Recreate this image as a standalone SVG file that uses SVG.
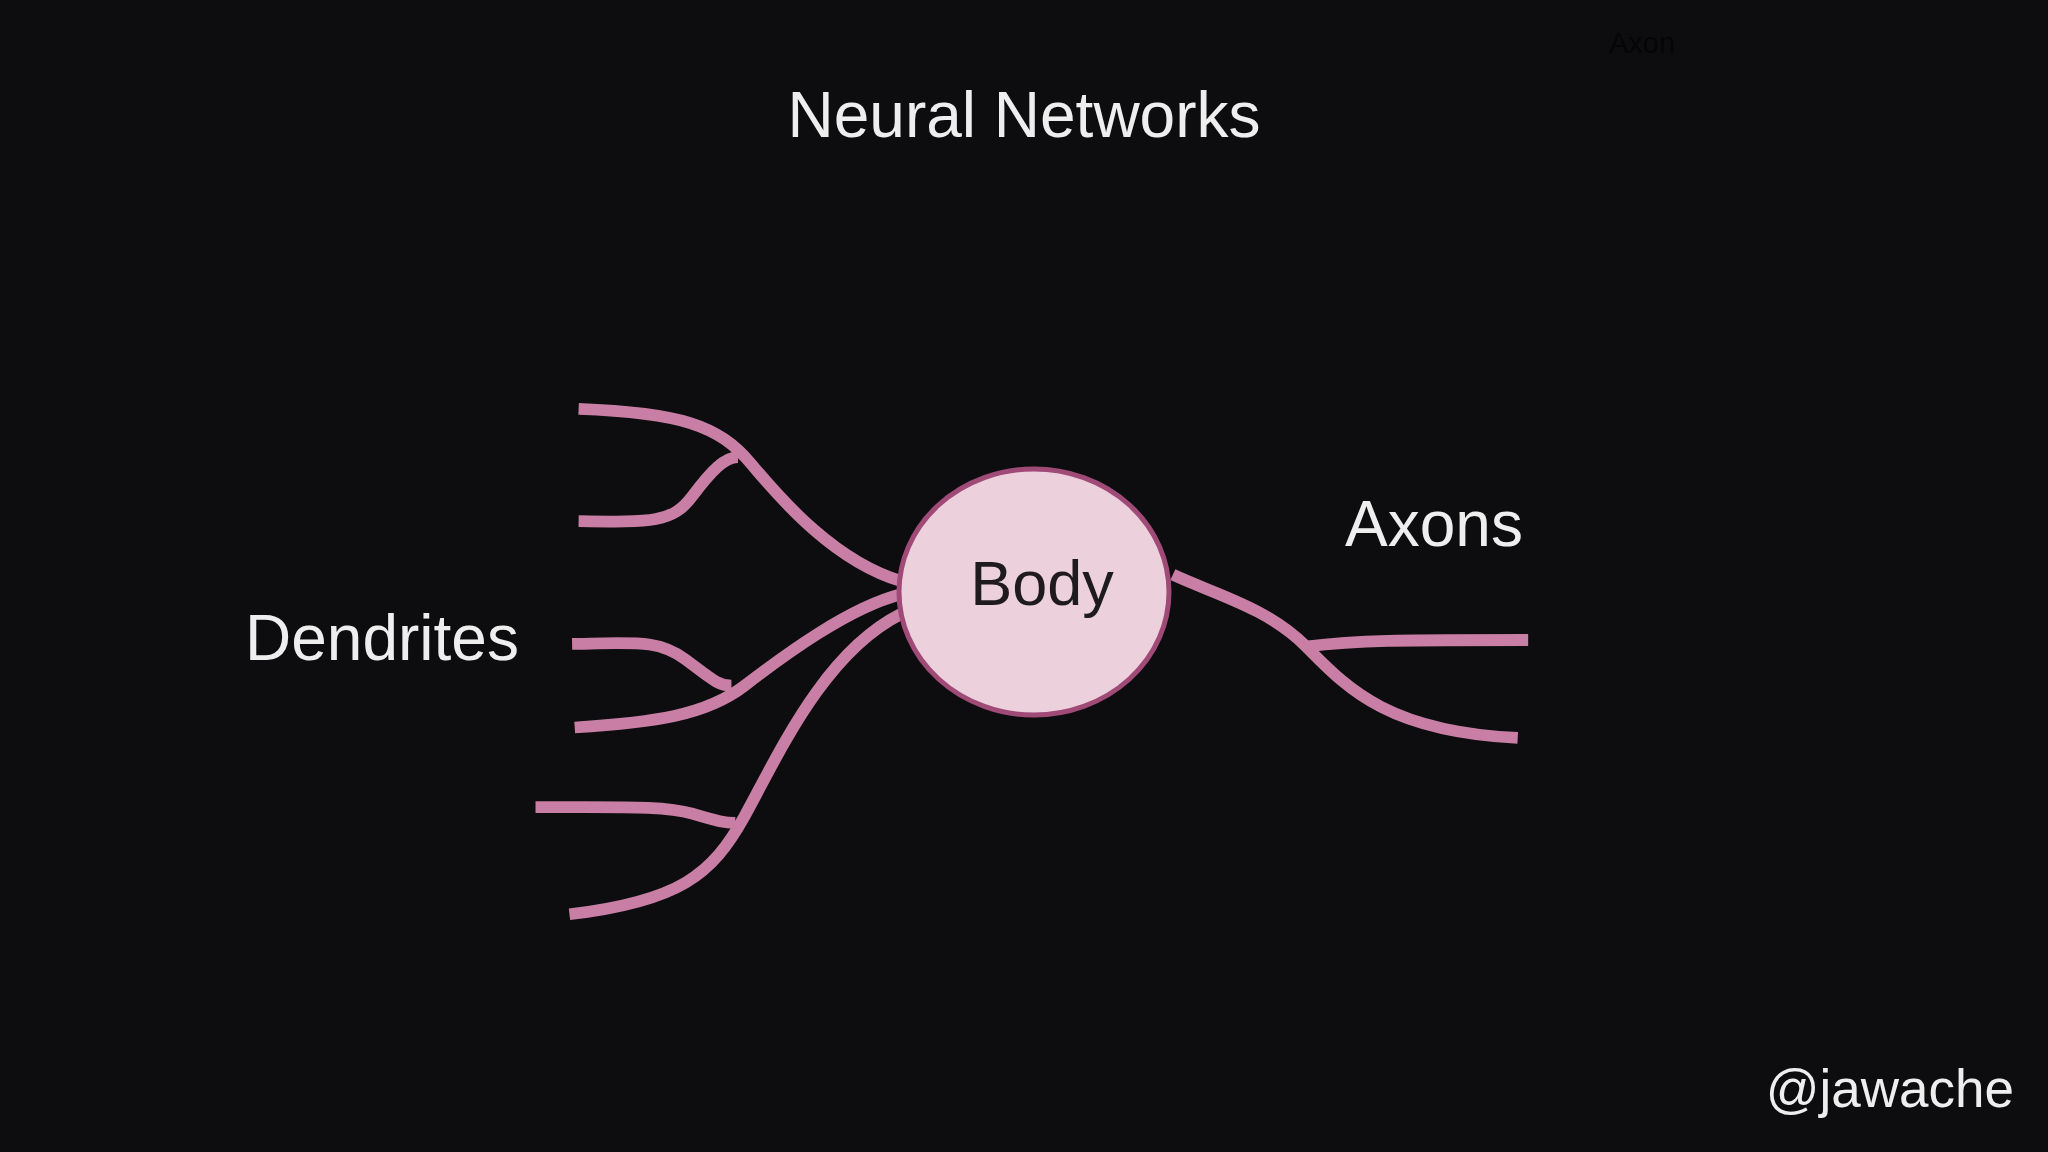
<svg xmlns="http://www.w3.org/2000/svg" width="2048" height="1152" viewBox="0 0 2048 1152">
<style>
.t{font-family:"Liberation Sans",Arial,sans-serif;fill:#eeeeee}
.c{fill:none;stroke:#c97fa5;stroke-width:9;stroke-linecap:butt}
</style>
<rect width="2048" height="1152" fill="#0d0d0f"/>
<text class="t" x="1024" y="137" font-size="64" text-anchor="middle">Neural Networks</text>
<text x="1609" y="53" font-size="29" font-family="Liberation Sans,Arial,sans-serif" fill="#050505">Axon</text>
<g id="connectors" transform="scale(1.30612)">
<path class="c" d="M443,313 C520,316 550,325 575,355 S640,430 690,445"/>
<path class="c" d="M443,399 C500,400 515,400 530,380 S555,350 565,350"/>
<path class="c" d="M438,493 C490,492 505,490 525,505 S550,525 560,525"/>
<path class="c" d="M440,557 C500,553 540,548 570,525 S650,465 690,455"/>
<path class="c" d="M410,618 C480,618 510,617 530,623 S555,630 563,630"/>
<path class="c" d="M436,700 C520,690 545,670 570,625 S630,500 690,470"/>
<path class="c" d="M898,440 C930,455 970,465 1000,495 S1060,560 1162,565"/>
<path class="c" d="M1000,495 C1040,490 1070,490 1170,490"/>
</g>
<g id="body">
<ellipse cx="1034" cy="592" rx="135" ry="123" fill="#ecd1dd" stroke="#a04a78" stroke-width="5"/>
<text x="1042" y="605" font-size="63" text-anchor="middle" font-family="Liberation Sans,Arial,sans-serif" fill="#1e1a1e">Body</text>
</g>
<g id="dendrites"><text class="t" x="245" y="660" font-size="64">Dendrites</text></g>
<g id="axons"><text class="t" x="1345" y="546" font-size="64">Axons</text></g>
<text class="t" x="2014" y="1107" font-size="53" text-anchor="end">@jawache</text>
</svg>
